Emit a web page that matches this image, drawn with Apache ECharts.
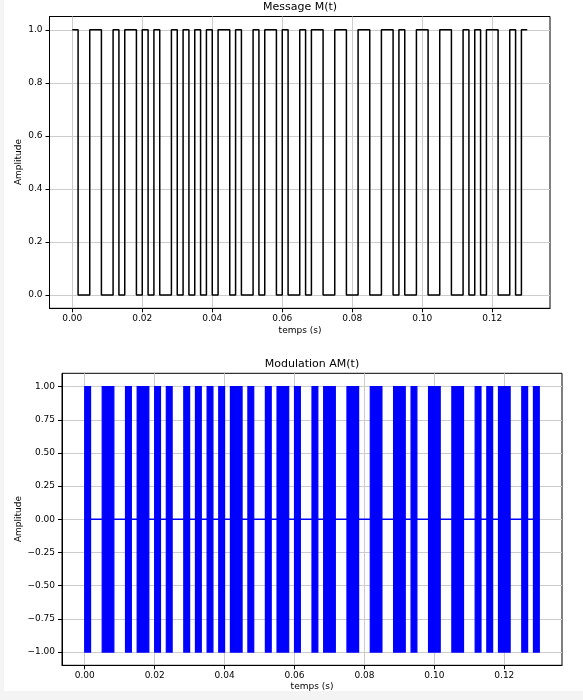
<!DOCTYPE html>
<html><head><meta charset="utf-8">
<script src="https://cdn.jsdelivr.net/npm/echarts@6/dist/echarts.min.js"></script>
<style>html,body{margin:0;padding:0;background:#fff}#c{width:583px;height:700px}</style>
</head><body><div id="c"></div>
<script>
// Message bits (one value per bit period)
const bits = [
  1,0,0,1,1,0,0,1,0,1,
  1,0,1,0,1,0,0,1,0,1,
  0,1,0,1,0,1,1,0,1,0,
  0,1,0,1,1,0,1,0,0,1,
  0,1,1,0,0,1,1,0,0,1,
  1,0,0,1,1,0,1,0,0,1,
  1,0,0,1,1,0,0,1,0,1,
  0,1,1,0,0,1,0,1
];
const bitDuration = 1 / 600; // seconds per bit
const carrierAmp = 1;
const xTicks = [0, 0.02, 0.04, 0.06, 0.08, 0.10, 0.12];
const yTicksTop = [0, 0.2, 0.4, 0.6, 0.8, 1.0];
const yTicksBottom = [-1, -0.75, -0.5, -0.25, 0, 0.25, 0.5, 0.75, 1];

const N = bits.length;
const tEnd = N * bitDuration;
const msgData = bits.map((b, i) => [i * bitDuration, b]);
msgData.push([tEnd, bits[N - 1]]);

const runs = [];
for (let i = 0; i < N;) {
  if (bits[i]) { let j = i; while (j < N && bits[j]) j++; runs.push([i * bitDuration, j * bitDuration]); i = j; }
  else i++;
}

const FONT = 'DejaVu Sans';
const txt = { fontFamily: FONT, fontSize: 9, color: '#000' };
function xAxis(gi) {
  return {
    type: 'value', gridIndex: gi, min: -0.0065, max: 0.1365,
    axisLine: { show: true, onZero: false, lineStyle: { color: '#000', width: 1 } },
    axisTick: { show: true, length: 4, customValues: xTicks, lineStyle: { color: '#000' } },
    axisLabel: { customValues: xTicks, margin: 6, ...txt, formatter: v => v.toFixed(2) },
    splitLine: { show: true, lineStyle: { color: '#cccccc', width: 1 } }
  };
}
function yAxis(gi, min, max, ticks, dec) {
  return {
    type: 'value', gridIndex: gi, min: min, max: max,
    axisLine: { show: true, onZero: false, lineStyle: { color: '#000', width: 1 } },
    axisTick: { show: true, length: 4, customValues: ticks, lineStyle: { color: '#000' } },
    axisLabel: { customValues: ticks, margin: 7, ...txt, formatter: v => (v < 0 ? '\u2212' : '') + Math.abs(v).toFixed(dec) },
    splitLine: { show: true, lineStyle: { color: '#cccccc', width: 1 } }
  };
}
const chart = echarts.init(document.getElementById('c'), null, { renderer: 'canvas' });
chart.setOption({
  animation: false,
  backgroundColor: '#fff',
  grid: [
    { left: 49.5, top: 16.5, width: 500.5, height: 291.8, show: true, borderColor: '#000', borderWidth: 1, outerBoundsMode: 'none', containLabel: false },
    { left: 62, top: 373.3, width: 500, height: 292, show: true, borderColor: '#000', borderWidth: 1, outerBoundsMode: 'none', containLabel: false }
  ],
  xAxis: [xAxis(0), xAxis(1)],
  yAxis: [yAxis(0, -0.05, 1.05, yTicksTop, 1), yAxis(1, -1.1, 1.1, yTicksBottom, 2)],
  series: [
    { type: 'line', xAxisIndex: 0, yAxisIndex: 0, data: msgData, step: 'end', showSymbol: false,
      lineStyle: { color: '#000', width: 1.5 }, z: 3 },
    { type: 'line', xAxisIndex: 1, yAxisIndex: 1, data: [[0, 0], [tEnd, 0]], showSymbol: false,
      lineStyle: { color: '#0000ff', width: 1.5 }, z: 3 },
    { type: 'custom', xAxisIndex: 1, yAxisIndex: 1, data: runs, encode: { x: [0, 1] }, z: 4,
      renderItem: (params, api) => {
        const p0 = api.coord([api.value(0), carrierAmp]);
        const p1 = api.coord([api.value(1), -carrierAmp]);
        return { type: 'rect', shape: { x: p0[0], y: p0[1], width: p1[0] - p0[0], height: p1[1] - p0[1] },
          style: { fill: '#0000ff', stroke: '#0000ff', lineWidth: 1.2 } };
      } }
  ],
  graphic: [
    { type: 'rect', shape: { x: 0, y: 0, width: 4, height: 700 }, style: { fill: '#f4f4f4' }, z: -10 },
    { type: 'rect', shape: { x: 0, y: 691, width: 583, height: 9 }, style: { fill: '#f4f4f4' }, z: -10 },
    { type: 'text', x: 300, y: 7.5, style: { text: 'Message M(t)', fontFamily: FONT, fontSize: 11, fill: '#000', align: 'center', verticalAlign: 'middle' } },
    { type: 'text', x: 312, y: 364.5, style: { text: 'Modulation AM(t)', fontFamily: FONT, fontSize: 11, fill: '#000', align: 'center', verticalAlign: 'middle' } },
    { type: 'text', x: 300, y: 331, style: { text: 'temps (s)', fontFamily: FONT, fontSize: 9, fill: '#000', align: 'center', verticalAlign: 'middle' } },
    { type: 'text', x: 312, y: 687, style: { text: 'temps (s)', fontFamily: FONT, fontSize: 9, fill: '#000', align: 'center', verticalAlign: 'middle' } },
    { type: 'text', x: 19, y: 162, rotation: Math.PI / 2, style: { text: 'Amplitude', fontFamily: FONT, fontSize: 9, fill: '#000', align: 'center', verticalAlign: 'middle' } },
    { type: 'text', x: 19, y: 519, rotation: Math.PI / 2, style: { text: 'Amplitude', fontFamily: FONT, fontSize: 9, fill: '#000', align: 'center', verticalAlign: 'middle' } }
  ]
});
</script></body></html>
